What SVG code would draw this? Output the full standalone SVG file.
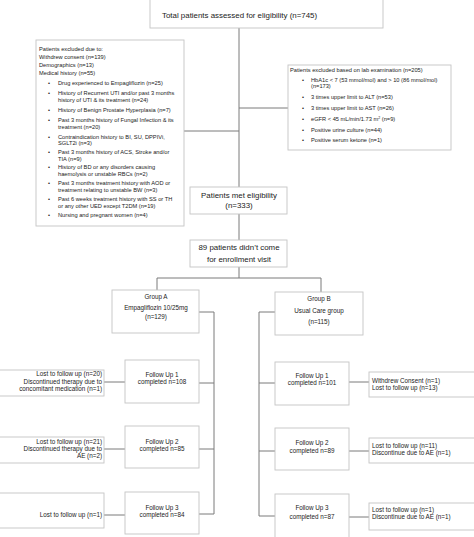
<svg xmlns="http://www.w3.org/2000/svg" width="474" height="537" viewBox="0 0 474 537">
<style>
.box{fill:#fff;stroke:#c4c4c4;stroke-width:0.9}
.con{fill:none;stroke:#7a7a7a;stroke-width:1}
text{font-family:"Liberation Sans",Arial,sans-serif;fill:#222}
.s{font-size:5.7px}
.m{font-size:6.3px}
.l{font-size:7.9px}
.c{text-anchor:middle}
.r{text-anchor:end}
</style>
<rect width="474" height="537" fill="#fff"/>
<g id="connectors">
<path class="con" d="M239 28V187M184 131H239M239 108H288M239 214V240M239 267V278M157 278H321M157 278V290M321 278V292"/>
<path class="con" d="M199 312H214V514H199M199 383H214M199 449H214"/>
<path class="con" d="M275 312H259V516H275M259 383H275M259 451H275"/>
<path class="con" d="M104 382H125M104 449H125M104 515H125M349 382H369M349 451H369M349 517H369"/>
</g>
<g id="total">
<rect class="box" x="150" y="-1" width="233" height="29"/>
<text class="l" x="162" y="17.5">Total patients assessed for eligibility  (n=745)</text>
</g>
<g id="excluded-left">
<rect class="box" x="36" y="40" width="148" height="186"/>
<text class="s" x="39" y="51">Patients excluded due to:</text>
<text class="s" x="39" y="59">Withdrew consent (n=139)</text>
<text class="s" x="39" y="67">Demographics (n=13)</text>
<text class="s" x="39" y="75">Medical history (n=55)</text>
<g class="s">
<text x="48" y="85">•</text><text x="58" y="85">Drug experienced to Empagliflozin (n=25)</text>
<text x="48" y="95">•</text><text x="58" y="95">History of Recurrent UTI and/or past 3 months</text><text x="58" y="102">history of UTI &amp; its treatment (n=24)</text>
<text x="48" y="112">•</text><text x="58" y="112">History of Benign Prostate Hyperplasia (n=7)</text>
<text x="48" y="122">•</text><text x="58" y="122">Past 3 months history of Fungal Infection &amp; its</text><text x="58" y="128.5">treatment (n=20)</text>
<text x="48" y="138.5">•</text><text x="58" y="138.5">Contraindication history to BI, SU, DPPIVi,</text><text x="58" y="145">SGLT2i (n=3)</text>
<text x="48" y="154">•</text><text x="58" y="154">Past 3 months history of ACS, Stroke and/or</text><text x="58" y="160.5">TIA (n=9)</text>
<text x="48" y="169">•</text><text x="58" y="169">History of BD or any disorders causing</text><text x="58" y="175.5">haemolysis or unstable RBCs (n=2)</text>
<text x="48" y="185">•</text><text x="58" y="185">Past  3 months treatment history with AOD or</text><text x="58" y="191.5">treatment relating to unstable BW (n=3)</text>
<text x="48" y="201">•</text><text x="58" y="201">Past 6 weeks treatment history with SS or TH</text><text x="58" y="207.5">or any other UED except T2DM (n=19)</text>
<text x="48" y="217">•</text><text x="58" y="217">Nursing and pregnant women (n=4)</text>
</g>
</g>
<g id="excluded-right">
<rect class="box" x="288" y="65" width="163" height="85"/>
<g class="s">
<text x="290" y="72">Patients excluded based on lab examination (n=205)</text>
<text x="302" y="82">•</text><text x="311" y="82">HbA1c &lt; 7 (53 mmol/mol) and &gt; 10 (86 mmol/mol)</text><text x="311" y="88">(n=173)</text>
<text x="302" y="99">•</text><text x="311" y="99">3 times upper limit to ALT (n=53)</text>
<text x="302" y="110">•</text><text x="311" y="110">3 times upper limit to AST (n=26)</text>
<text x="302" y="121">•</text><text x="311" y="121">eGFR &lt; 45 mL/min/1.73 m<tspan font-size="3.6px" dy="-2">2</tspan><tspan dy="2"> (n=9)</tspan></text>
<text x="302" y="132">•</text><text x="311" y="132">Positive urine culture (n=44)</text>
<text x="302" y="142">•</text><text x="311" y="142">Positive serum ketone (n=1)</text>
</g>
</g>
<g id="eligible">
<rect class="box" x="190" y="187" width="97" height="27"/>
<text class="l c" x="239" y="197.8">Patients met eligibility</text>
<text class="l c" x="239" y="207.8">(n=333)</text>
</g>
<g id="no-show">
<rect class="box" x="190" y="240" width="97" height="27"/>
<text class="l c" x="239" y="249.8">89 patients didn’t come</text>
<text class="l c" x="239" y="261.8">for enrollment visit</text>
</g>
<g id="groupA">
<rect class="box" x="112" y="290" width="87" height="43"/>
<text class="m c" x="156" y="299.2">Group A</text>
<text class="m c" x="156" y="310.2">Empagliflozin 10/25mg</text>
<text class="m c" x="156" y="319.2">(n=129)</text>
</g>
<g id="groupB">
<rect class="box" x="275" y="292" width="88" height="43"/>
<text class="m c" x="319" y="301.2">Group B</text>
<text class="m c" x="319" y="313.2">Usual Care group</text>
<text class="m c" x="319" y="324.2">(n=115)</text>
</g>
<g id="A-fu1">
<rect class="box" x="125" y="360" width="74" height="43"/>
<text class="m c" x="162" y="377.2">Follow Up 1</text>
<text class="m c" x="162" y="384.4">completed n=108</text>
</g>
<g id="A-fu2">
<rect class="box" x="125" y="426" width="74" height="42"/>
<text class="m c" x="162" y="444.2">Follow Up 2</text>
<text class="m c" x="162" y="451.4">completed n=85</text>
</g>
<g id="A-fu3">
<rect class="box" x="125" y="492" width="74" height="42"/>
<text class="m c" x="162" y="510.2">Follow Up 3</text>
<text class="m c" x="162" y="517.4">completed n=84</text>
</g>
<g id="B-fu1">
<rect class="box" x="275" y="362" width="74" height="43"/>
<text class="m c" x="312" y="378.2">Follow Up 1</text>
<text class="m c" x="312" y="385.4">completed n=101</text>
</g>
<g id="B-fu2">
<rect class="box" x="275" y="428" width="74" height="42"/>
<text class="m c" x="312" y="445.2">Follow Up 2</text>
<text class="m c" x="312" y="453">completed n=89</text>
</g>
<g id="B-fu3">
<rect class="box" x="275" y="494" width="74" height="44"/>
<text class="m c" x="312" y="510.2">Follow Up 3</text>
<text class="m c" x="312" y="519">completed n=87</text>
</g>
<g id="A-out1">
<rect class="box" x="-1" y="370" width="105" height="26"/>
<text class="m r" x="102" y="376.2">Lost to follow up (n=20)</text>
<text class="m r" x="102" y="383.6">Discontinued therapy due to</text>
<text class="m r" x="102" y="391">concomitant medication (n=1)</text>
</g>
<g id="A-out2">
<rect class="box" x="-1" y="437" width="105" height="26"/>
<text class="m r" x="102" y="444">Lost to follow up (n=21)</text>
<text class="m r" x="102" y="451.2">Discontinued therapy due to</text>
<text class="m r" x="102" y="458.4">AE (n=2)</text>
</g>
<g id="A-out3">
<rect class="box" x="-1" y="493" width="105" height="35"/>
<text class="m r" x="102" y="517.2">Lost to follow up (n=1)</text>
</g>
<g id="B-out1">
<rect class="box" x="369" y="372" width="106" height="25"/>
<text class="m" x="372" y="383.2">Withdrew Consent (n=1)</text>
<text class="m" x="372" y="390.4">Lost to follow up (n=13)</text>
</g>
<g id="B-out2">
<rect class="box" x="369" y="438" width="106" height="25"/>
<text class="m" x="372" y="448.2">Lost to follow up (n=11)</text>
<text class="m" x="372" y="455.4">Discontinue due to AE (n=1)</text>
</g>
<g id="B-out3">
<rect class="box" x="369" y="503" width="106" height="27"/>
<text class="m" x="372" y="512.2">Lost to follow up (n=1)</text>
<text class="m" x="372" y="519.4">Discontinue due to AE (n=1)</text>
</g>
</svg>
